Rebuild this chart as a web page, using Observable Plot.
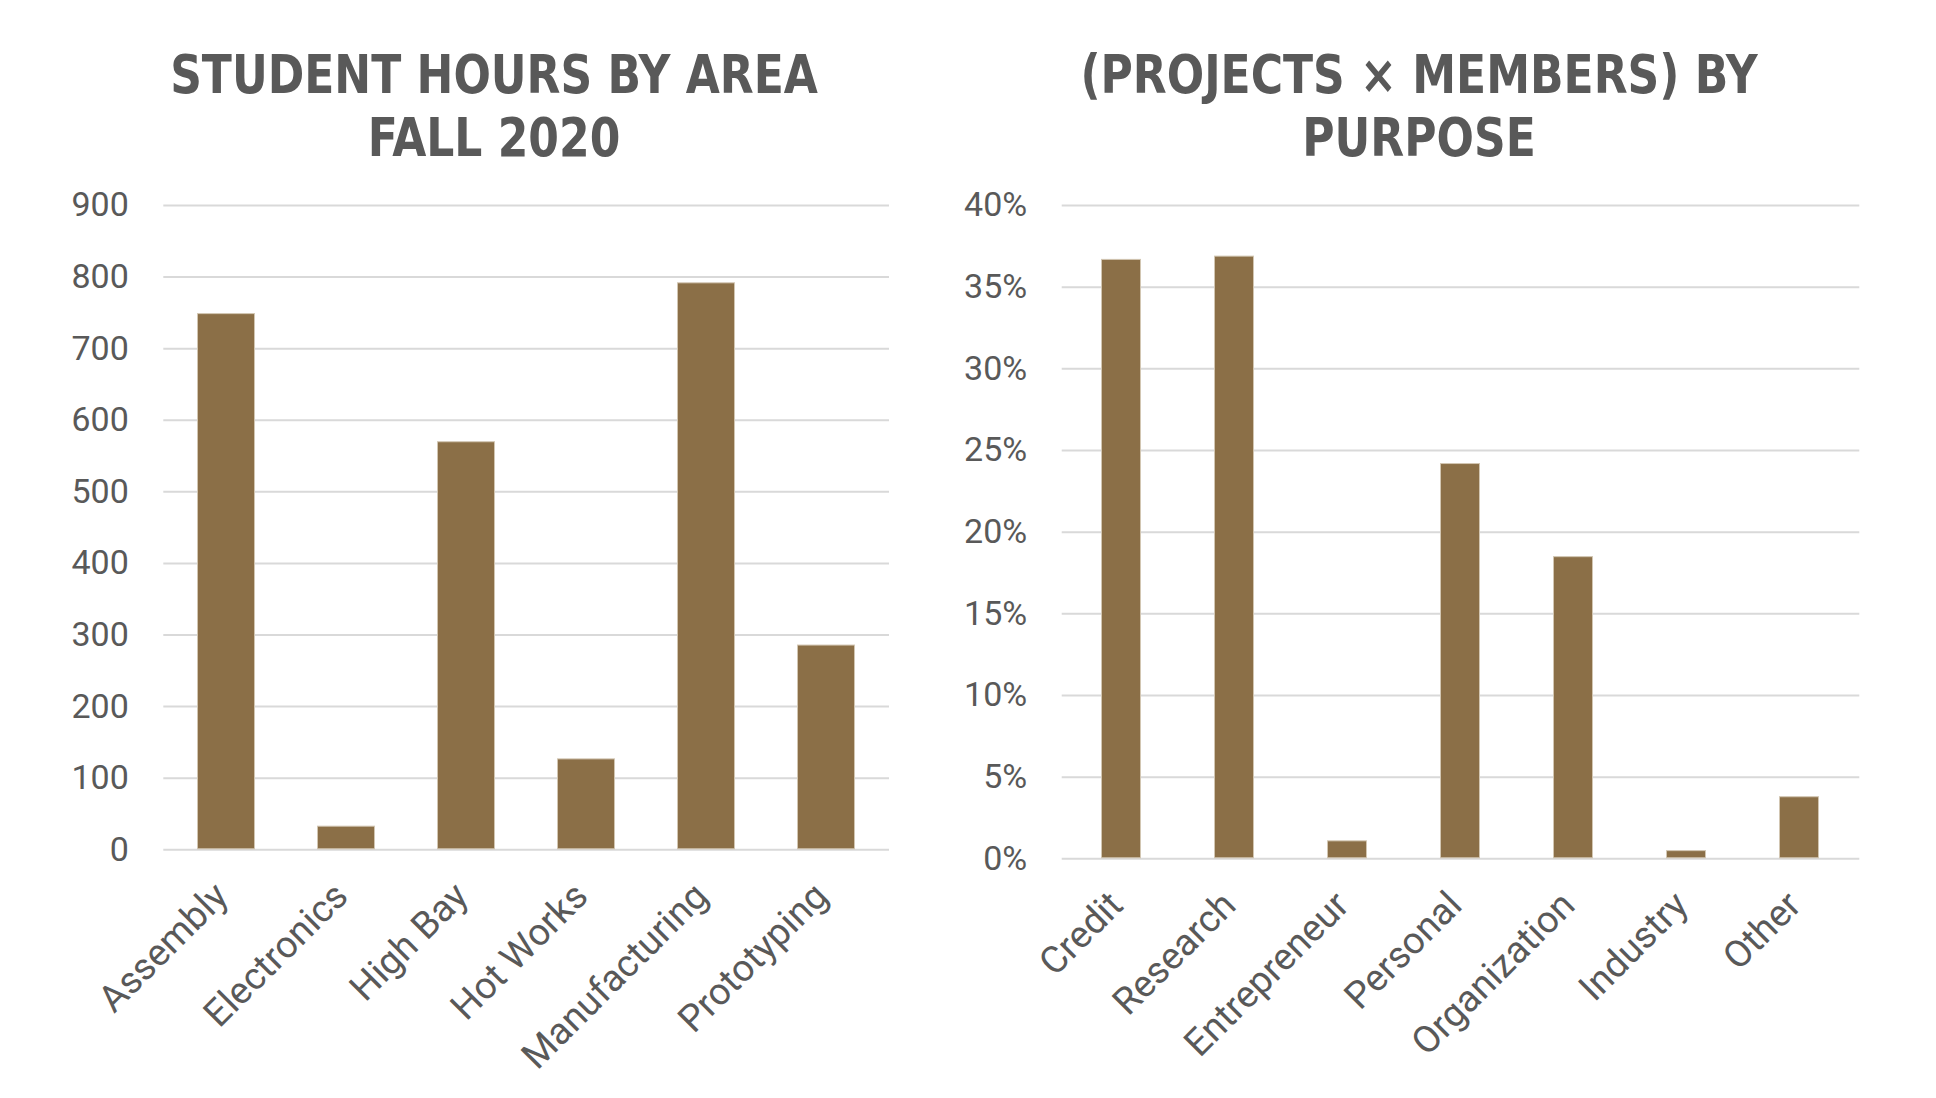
<!DOCTYPE html>
<html><head><meta charset="utf-8">
<script src="https://cdn.jsdelivr.net/npm/d3@7"></script>
<script src="https://cdn.jsdelivr.net/npm/@observablehq/plot@0.6"></script>
<style>
html,body{margin:0;padding:0;background:#fff;}
#page{position:relative;width:1936px;height:1098px;overflow:hidden;background:#fff;}
.title{position:absolute;top:44px;text-align:center;font-family:"DejaVu Sans Condensed","DejaVu Sans",sans-serif;font-stretch:condensed;font-weight:bold;font-size:53.5px;line-height:62.5px;color:#595959;white-space:nowrap;transform:scaleX(0.915);transform-origin:50% 50%;}
.chart{position:absolute;top:180px;width:968px;}
</style></head><body>
<div id="page">
  <div class="title" id="t1" style="left:0;width:988px"></div>
  <div class="title" id="t2" style="left:968px;width:902px"></div>
  <div class="chart" id="c1" style="left:0"></div>
  <div class="chart" id="c2" style="left:968px"></div>
</div>
<script>
// ---- data ----
const title1 = ["STUDENT HOURS BY AREA", "FALL 2020"];
const title2 = ["(PROJECTS × MEMBERS) BY", "PURPOSE"];

const areas = ["Assembly", "Electronics", "High Bay", "Hot Works", "Manufacturing", "Prototyping"];
const hours = [749, 33, 570, 127, 792, 286];
const hourTicks = [0, 100, 200, 300, 400, 500, 600, 700, 800, 900];

const purposes = ["Credit", "Research", "Entrepreneur", "Personal", "Organization", "Industry", "Other"];
const shares = [0.367, 0.369, 0.011, 0.242, 0.185, 0.005, 0.038];
const shareTicks = [0, 0.05, 0.10, 0.15, 0.20, 0.25, 0.30, 0.35, 0.40];

// ---- styles ----
const BAR = "#8B6F47";
const BAR_EDGE = "#d2c6b2";
const GRID = "#d9d9d9";
const TEXT = "#595959";

document.getElementById("t1").innerHTML = title1.join("<br>");
document.getElementById("t2").innerHTML = title2.join("<br>");

const data1 = areas.map((a, i) => ({area: a, hours: hours[i]}));
const data2 = purposes.map((p, i) => ({purpose: p, share: shares[i]}));

const baseStyle = {fontFamily: "Roboto", fontSize: "34px", color: TEXT, background: "transparent", overflow: "visible"};

const plot1 = Plot.plot({
  width: 968,
  height: 899,
  marginLeft: 163.3,
  marginRight: 79,
  marginTop: 25,
  marginBottom: 229.7,
  style: baseStyle,
  x: {domain: areas, paddingInner: 0.52, paddingOuter: 0.26, label: null},
  y: {domain: [0, 900], label: null},
  marks: [
    Plot.gridY(hourTicks, {stroke: GRID, strokeOpacity: 1, strokeWidth: 2}),
    Plot.axisY(hourTicks, {tickSize: 0, tickPadding: 35, label: null, fill: TEXT}),
    Plot.barY(data1, {x: "area", y: "hours", fill: BAR, stroke: BAR_EDGE, strokeWidth: 1, inset: 0.5}),
    Plot.axisX({tickSize: 0, tickRotate: -45, tickPadding: 40, dx: -5, fontSize: 37.5, label: null, fill: TEXT})
  ]
});
document.getElementById("c1").append(plot1);

const plot2 = Plot.plot({
  width: 968,
  height: 898,
  marginLeft: 93.7,
  marginRight: 76.7,
  marginTop: 25,
  marginBottom: 219.7,
  style: baseStyle,
  x: {domain: purposes, paddingInner: 0.646, paddingOuter: 0.323, label: null},
  y: {domain: [0, 0.40], label: null},
  marks: [
    Plot.gridY(shareTicks, {stroke: GRID, strokeOpacity: 1, strokeWidth: 2}),
    Plot.axisY(shareTicks, {tickSize: 0, tickPadding: 35, label: null, fill: TEXT, tickFormat: d3.format(".0%")}),
    Plot.barY(data2, {x: "purpose", y: "share", fill: BAR, stroke: BAR_EDGE, strokeWidth: 1, inset: 0.5}),
    Plot.axisX({tickSize: 0, tickRotate: -45, tickPadding: 40, dx: -5, fontSize: 37.5, label: null, fill: TEXT})
  ]
});
document.getElementById("c2").append(plot2);
</script>
</body></html>
